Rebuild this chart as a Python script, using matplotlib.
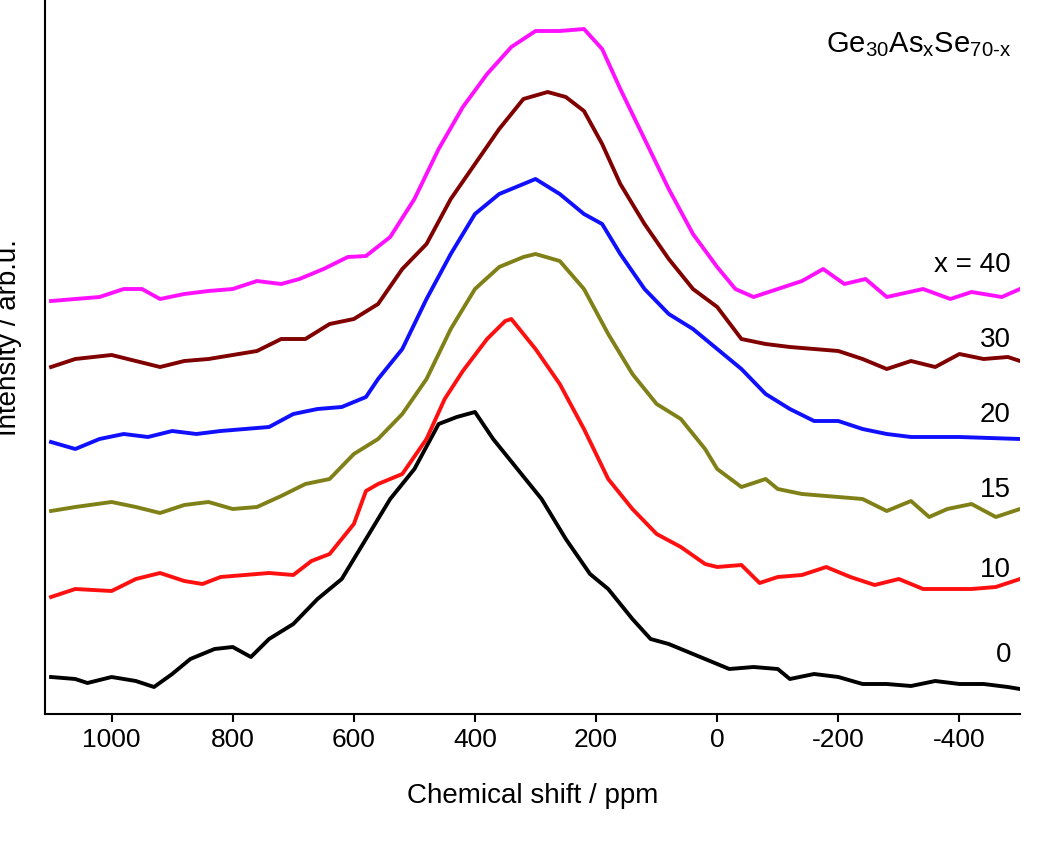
import matplotlib
matplotlib.use("Agg")
import matplotlib.pyplot as plt
from matplotlib.ticker import FuncFormatter

plt.rcParams['font.family'] = ['Liberation Sans', 'DejaVu Sans']

# values: chemical shift (ppm) and intensity (arb.u., offset traces)
ppm_0 = [1100, 1060, 1040, 1000, 960, 930, 900, 870, 830, 800, 770, 740, 700, 660, 620, 580, 540, 500, 460, 430, 400, 370, 330, 290, 250, 210, 180, 140, 110, 80, 40, 0, -20, -60, -100, -120, -160, -200, -240, -280, -320, -360, -400, -440, -480, -500]
int_0 = [678, 680, 684, 678, 682, 688, 675, 660, 650, 648, 658, 640, 625, 600, 580, 540, 500, 470, 425, 418, 413, 440, 470, 500, 540, 575, 590, 620, 640, 645, 655, 665, 670, 668, 670, 680, 675, 678, 685, 685, 687, 682, 685, 685, 688, 690]

ppm_10 = [1100, 1060, 1000, 960, 920, 880, 850, 820, 780, 740, 700, 670, 640, 600, 580, 560, 520, 480, 450, 420, 380, 350, 340, 300, 260, 220, 180, 140, 100, 60, 20, 0, -40, -70, -100, -140, -180, -220, -260, -300, -340, -380, -420, -460, -500]
int_10 = [598, 590, 592, 580, 574, 582, 585, 578, 576, 574, 576, 562, 555, 525, 492, 485, 475, 440, 400, 372, 340, 322, 320, 350, 385, 430, 480, 510, 535, 548, 565, 568, 566, 584, 578, 576, 568, 578, 586, 580, 590, 590, 590, 588, 580]

ppm_15 = [1100, 1060, 1000, 960, 920, 880, 840, 800, 760, 720, 680, 640, 600, 560, 520, 480, 440, 400, 360, 320, 300, 260, 220, 180, 140, 100, 60, 20, 0, -40, -80, -100, -140, -200, -240, -280, -320, -350, -380, -420, -460, -500]
int_15 = [512, 508, 503, 508, 514, 506, 503, 510, 508, 497, 485, 480, 455, 440, 415, 380, 330, 290, 268, 258, 255, 262, 290, 335, 375, 405, 420, 450, 470, 488, 480, 490, 495, 498, 500, 512, 502, 518, 510, 505, 518, 510]

ppm_20 = [1100, 1060, 1020, 980, 940, 900, 860, 820, 780, 740, 700, 660, 620, 580, 560, 520, 480, 440, 400, 360, 320, 300, 260, 220, 190, 160, 120, 80, 40, 0, -40, -80, -120, -160, -200, -240, -280, -320, -400, -500]
int_20 = [443, 450, 440, 435, 438, 432, 435, 432, 430, 428, 415, 410, 408, 398, 380, 350, 300, 255, 215, 195, 185, 180, 195, 215, 225, 255, 290, 315, 330, 350, 370, 395, 410, 422, 422, 430, 435, 438, 438, 440]

ppm_30 = [1100, 1060, 1000, 960, 920, 880, 840, 800, 760, 720, 680, 640, 600, 560, 520, 480, 440, 400, 360, 320, 280, 250, 220, 190, 160, 120, 80, 40, 0, -40, -80, -120, -160, -200, -240, -280, -320, -360, -400, -440, -480, -500]
int_30 = [368, 360, 356, 362, 368, 362, 360, 356, 352, 340, 340, 325, 320, 305, 270, 245, 200, 165, 130, 100, 93, 98, 112, 145, 185, 225, 260, 290, 308, 340, 345, 348, 350, 352, 360, 370, 362, 368, 355, 360, 358, 362]

ppm_40 = [1100, 1060, 1020, 980, 950, 920, 880, 840, 800, 760, 720, 690, 650, 610, 580, 540, 500, 460, 420, 380, 340, 300, 260, 220, 190, 160, 120, 80, 40, 0, -30, -60, -90, -140, -175, -210, -245, -280, -340, -385, -420, -470, -500]
int_40 = [302, 300, 298, 290, 290, 300, 295, 292, 290, 282, 285, 280, 270, 258, 257, 238, 200, 150, 108, 75, 48, 32, 32, 30, 50, 90, 140, 190, 235, 268, 290, 298, 292, 282, 270, 285, 280, 298, 290, 300, 293, 298, 290]

series = [(ppm_0, int_0, 'black', '0'), (ppm_10, int_10, '#ff1010', '10'),
          (ppm_15, int_15, '#808018', '15'), (ppm_20, int_20, '#1010ff', '20'),
          (ppm_30, int_30, '#800000', '30'), (ppm_40, int_40, '#ff10ff', 'x = 40')]
label_y = [655, 570, 490, 415, 340, 265]

fig = plt.figure(figsize=(10.46, 8.45), dpi=100)
ax = fig.add_axes([45/1046, 130/845, 975/1046, 715/845])
for (x, y, c, lab), ly in zip(series, label_y):
    ax.plot(x, [-v for v in y], color=c, lw=2.8, solid_joinstyle='round')
    ax.text(-485, -ly, lab, ha='right', va='center', fontsize=20)

ax.text(-485, -45, 'Ge$_{\\mathregular{30}}$As$_{\\mathregular{x}}$Se$_{\\mathregular{70\u2010x}}$',
        ha='right', va='center', fontsize=21)

ax.set_xlim(1110, -500)
ax.set_ylim(-715, 0)
ax.set_xticks([1000, 800, 600, 400, 200, 0, -200, -400])
ax.xaxis.set_major_formatter(FuncFormatter(lambda v, p: '%d' % v))
ax.set_yticks([])
ax.tick_params(axis='x', labelsize=19, width=1.5, length=6)
for s in ['top', 'right']:
    ax.spines[s].set_visible(False)
for s in ['left', 'bottom']:
    ax.spines[s].set_linewidth(1.5)
ax.set_xlabel('Chemical shift / ppm', fontsize=20, labelpad=22)
fig.text(-0.004, 0.6, 'Intensity / arb.u.', rotation=90, fontsize=20, va='center')

fig.savefig('out.png', dpi=100)
